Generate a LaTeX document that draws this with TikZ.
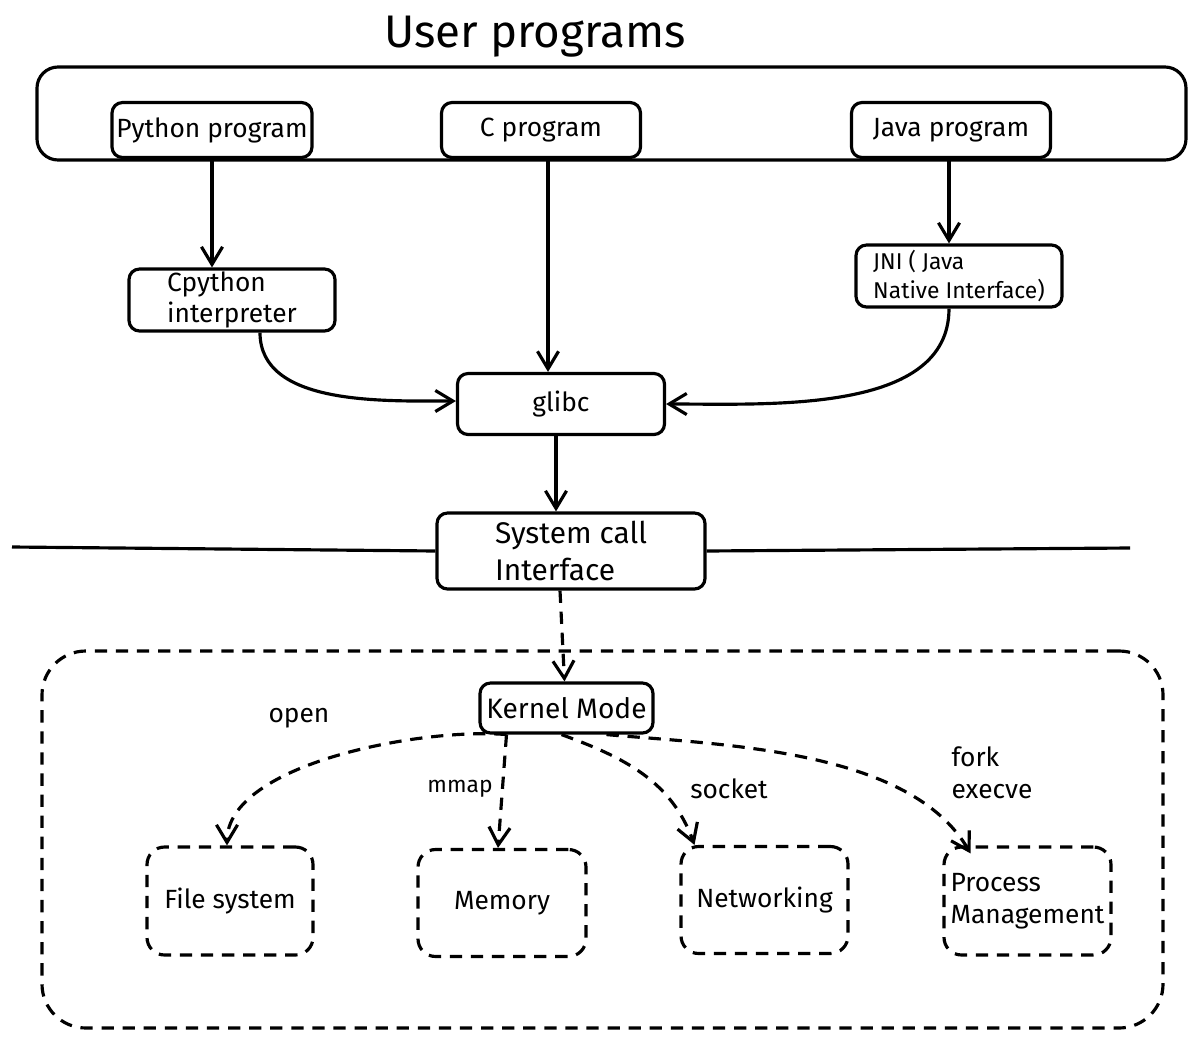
\documentclass[tikz,border=0pt]{standalone}
\usepackage{fontspec}
\setmainfont{Fira Sans}
\usetikzlibrary{arrows.meta,calc}
\begin{document}
\begin{tikzpicture}[x=0.02cm,y=-0.02cm,
  box/.style={draw,line width=1.8pt,rounded corners=6pt,align=left,font=\fontsize{15}{18}\selectfont,inner sep=0pt},
  dbox/.style={draw,line width=1.8pt,dash pattern=on 7pt off 5pt,rounded corners=10pt,align=left,font=\fontsize{15}{18}\selectfont,inner sep=0pt},
  arr/.style={line width=1.8pt,-{Straight Barb[length=10pt,width=12pt]}},
  darr/.style={arr,dash pattern=on 7pt off 5pt},
  lbl/.style={font=\fontsize{15}{18}\selectfont}]
\useasboundingbox (0,0) rectangle (1200,1041);
\node[font=\fontsize{26}{30}\selectfont] (title) at (535,37) {User programs};
\node[box,rounded corners=12pt,minimum width=1149*0.02cm,minimum height=93*0.02cm] (outer) at (611.5,113.5) {};
\node[box,minimum width=200*0.02cm,minimum height=55*0.02cm] (py) at (212,130) {Python program};
\node[box,minimum width=199*0.02cm,minimum height=55*0.02cm] (c) at (541,130) {C program};
\node[box,minimum width=199*0.02cm,minimum height=55*0.02cm] (java) at (951,130) {Java program};
\node[box,minimum width=206*0.02cm,minimum height=62*0.02cm] (cpy) at (232,300) {Cpython\\interpreter};
\node[box,minimum width=206*0.02cm,minimum height=62*0.02cm,font=\fontsize{13}{16}\selectfont] (jni) at (959,276) {JNI ( Java\\Native Interface)};
\node[box,minimum width=207*0.02cm,minimum height=61*0.02cm] (glibc) at (561,404) {glibc};
\node[box,minimum width=268*0.02cm,minimum height=76*0.02cm,font=\fontsize{17}{21}\selectfont] (sys) at (571,551) {System call\\Interface};
\coordinate (l1) at (12,547); \coordinate (l2) at (1130,548);
\draw[line width=1.8pt] (l1) -- (sys.west);
\draw[line width=1.8pt] (sys.east) -- (l2);
\node[dbox,rounded corners=25pt,minimum width=1121*0.02cm,minimum height=377*0.02cm] (kbig) at (602.5,839.5) {};
\node[box,minimum width=173*0.02cm,minimum height=50*0.02cm,font=\fontsize{16}{19}\selectfont] (kern) at (566.5,708) {Kernel Mode};
\node[dbox,minimum width=166*0.02cm,minimum height=108*0.02cm] (fs) at (230,901) {File system};
\node[dbox,minimum width=168*0.02cm,minimum height=107*0.02cm] (mem) at (502,903) {Memory};
\node[dbox,minimum width=167*0.02cm,minimum height=107*0.02cm] (net) at (764.5,900) {Networking};
\node[dbox,minimum width=167*0.02cm,minimum height=108*0.02cm] (proc) at (1027.5,901) {Process\\Management};
\node[lbl] (lopen) at (299,718) {open};
\node[lbl,font=\fontsize{13}{16}\selectfont] (lmmap) at (460,789) {mmap};
\node[lbl] (lsock) at (729,789) {socket};
\node[lbl,align=left] (lfork) at (992,773) {fork\\execve};
\draw[arr] (py.south) -- (py.south |- cpy.north);
\draw[arr] ([xshift=7*0.02cm]c.south) -- ([xshift=-13*0.02cm]glibc.north);
\draw[arr] ([xshift=-2*0.02cm]java.south) -- ([xshift=-10*0.02cm]jni.north);
\draw[arr] ([xshift=28*0.02cm]cpy.south) to[out=-90,in=180,looseness=0.9] ([yshift=3*0.02cm]glibc.west);
\draw[arr] ([xshift=-10*0.02cm]jni.south) to[out=-90,in=0,looseness=0.9] (glibc.east);
\draw[arr] ([xshift=-5*0.02cm]glibc.south) -- ([xshift=-15*0.02cm]sys.north);
\draw[darr] ([xshift=-11*0.02cm]sys.south) -- ([xshift=-2*0.02cm]kern.north);
\draw[darr] ([xshift=-60*0.02cm]kern.south) to[out=175,in=90,looseness=0.7] ([xshift=-3*0.02cm]fs.north);
\draw[darr] ([xshift=-60*0.02cm]kern.south) -- ([xshift=-4*0.02cm]mem.north);
\draw[darr] ([xshift=-5*0.02cm]kern.south) to[out=-20,in=110] ([xshift=-70*0.02cm]net.north);
\draw[darr] ([xshift=40*0.02cm]kern.south) to[out=-5,in=120,looseness=0.8] ([xshift=-57*0.02cm,yshift=-8*0.02cm]proc.north);
\end{tikzpicture}
\end{document}
